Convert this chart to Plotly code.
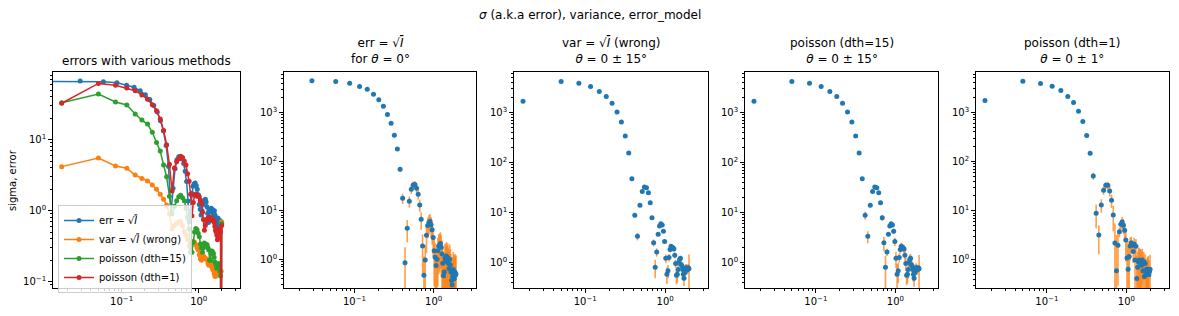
import numpy as np
import plotly.graph_objects as go

# ---------------- data ----------------
# theta = 0 deg cut (panel 2 and blue curve of panel 1)
q_err = [0.0, 0.029, 0.058, 0.087, 0.116, 0.145, 0.174, 0.203, 0.232, 0.261, 0.29,
         0.319, 0.348, 0.377, 0.406, 0.435, 0.464, 0.493, 0.522, 0.551, 0.58, 0.609,
         0.638, 0.667, 0.696, 0.725, 0.754, 0.783, 0.812, 0.841, 0.87, 0.899, 0.928,
         0.957, 0.986, 1.015, 1.044, 1.073, 1.102, 1.131, 1.16, 1.189, 1.218, 1.247,
         1.276, 1.305, 1.334, 1.363, 1.392, 1.421, 1.45, 1.479, 1.508, 1.537, 1.566,
         1.595, 1.624, 1.653, 1.682, 1.711, 1.74, 1.769, 1.798, 1.827, 1.856, 1.885, 1.914]
I_err = [4520, 4500, 4300, 3980, 3400, 2990, 2370, 1840, 1350, 910, 605,
         343, 180, 69, 17.7, 0.85, 4.3, 15.3, 27, 33, 34, 28.5,
         21.3, 12.9, 6.6, 1.87, 0.47, 0.97, 3.1, 4.9, 5.6, 6.0, 5.1,
         4.0, 2.8, 1.5, 1.1, 0.75, 1.0, 1.5, 1.87, 1.96, 2.1, 1.76,
         1.29, 0.83, 0.46, 0.55, 1.06, 0.97, 1.17, 0.9, 1.08, 0.83, 0.65,
         1.0, 0.76, 0.55, 0.37, 0.3, 0.45, 0.62, 0.5, 0.4, 0.55, 0.48, 0.5]
sigma_err = [67.2, 67.1, 65.6, 63.1, 58.3, 54.7, 48.7, 42.9, 36.7, 30.2, 24.6,
             18.5, 13.4, 8.3, 4.2, 0.92, 2.07, 3.91, 5.2, 5.74, 5.83, 5.34,
             4.62, 3.59, 2.57, 1.37, 0.69, 0.98, 1.76, 2.21, 2.37, 2.45, 2.26,
             2.0, 1.67, 1.22, 1.05, 0.87, 1.0, 1.22, 1.37, 1.4, 1.45, 1.33,
             1.14, 0.91, 0.68, 0.74, 1.03, 0.98, 1.08, 0.95, 1.04, 0.91, 0.81,
             1.0, 0.87, 0.74, 0.61, 0.55, 0.67, 0.79, 0.71, 0.63, 0.74, 0.69, 0.71]

# sector-averaged curves (panels 3-5 and orange/green/red curves of panel 1)
q_avg = [0.0167, 0.05, 0.0833, 0.1167, 0.15, 0.1833, 0.2167, 0.25, 0.2833, 0.3167,
         0.35, 0.3833, 0.4167, 0.45, 0.4833, 0.5167, 0.55, 0.5833, 0.6167, 0.65,
         0.6833, 0.7167, 0.75, 0.7833, 0.8167, 0.85, 0.8833, 0.9167, 0.95, 0.9833,
         1.0167, 1.05, 1.0833, 1.1167, 1.15, 1.1833, 1.2167, 1.25, 1.2833, 1.3167,
         1.35, 1.3833, 1.4167, 1.45, 1.4833, 1.5167, 1.55, 1.5833, 1.6167, 1.65,
         1.6833, 1.7167, 1.75, 1.7833, 1.8167, 1.85, 1.8833, 1.9167, 1.95, 1.9833]
I_15 = [1660, 4130, 3830, 3290, 2610, 2080, 1510, 1015, 643, 334,
        153, 47, 8.7, 3.3, 13.8, 26, 32, 31, 24.6, 15.6,
        7.8, 2.46, 0.8, 1.6, 3.65, 5.3, 5.9, 5.6, 4.2, 2.6,
        1.2, 0.58, 0.68, 1.25, 1.8, 2.1, 2.0, 1.95, 1.85, 1.38,
        0.95, 0.55, 0.58, 0.72, 1.0, 1.15, 1.2, 0.9, 0.85, 0.72,
        0.58, 0.48, 0.62, 0.72, 0.78, 0.76, 0.7, 0.75, 0.78, 0.74]
I_1 = [1750, 4270, 3870, 3390, 2790, 2110, 1590, 1050, 655, 340,
       147, 51, 8.9, 3.2, 13.1, 26, 32.9, 32.9, 25.2, 16.3,
       8.2, 2.2, 0.6, 2.0, 3.76, 5.3, 5.9, 5.1, 4.0, 2.55,
       1.1, 0.65, 1.17, 1.92, 2.2, 2.0, 1.48, 2.1, 1.0, 1.9,
       0.42, 0.71, 0.92, 1.0, 0.88, 0.95, 0.78, 1.0, 0.6, 0.92,
       0.46, 0.85, 0.5, 0.65, 0.52, 0.62, 0.65, 0.5, 0.58, 0.65]
sigma_var = [4.17, 5.5, 4.26, 3.95, 3.18, 2.85, 2.62, 2.3, 2.0, 1.7,
             1.45, 1.2, 0.9, 0.55, 0.62, 0.66, 0.7, 0.7, 0.62, 0.5,
             0.45, 0.39, 0.32, 0.3, 0.35, 0.37, 0.36, 0.33, 0.3, 0.28,
             0.24, 0.21, 0.2, 0.22, 0.23, 0.22, 0.21, 0.21, 0.2, 0.18,
             0.17, 0.19, 0.19, 0.17, 0.16, 0.15, 0.146, 0.13, 0.12, 0.118,
             0.13, 0.146, 0.14, 0.15, 0.14, 0.145, 0.13, 0.14, 0.14, 0.7]
sigma_p15 = [33, 44, 34, 30.8, 23, 18.9, 16.6, 12.7, 9.1, 6.9,
             4.4, 3.0, 1.6, 0.9, 1.15, 1.38, 1.57, 1.65, 1.52, 1.38,
             1.08, 0.8, 0.55, 0.26, 0.26, 0.36, 0.5, 0.56, 0.54, 0.48,
             0.43, 0.34, 0.3, 0.26, 0.3, 0.35, 0.34, 0.33, 0.33, 0.3,
             0.28, 0.2, 0.2, 0.25, 0.27, 0.26, 0.25, 0.22, 0.19, 0.18,
             0.17, 0.155, 0.16, 0.17, 0.18, 0.16, 0.14, 0.12, 0.0, 0.66]
sigma_p1 = [32.6, 62, 58.3, 53.5, 49, 42.6, 37, 31, 25.5, 19.5,
            13.5, 8.5, 4.5, 1.9, 4.0, 4.9, 5.4, 5.8, 5.6, 5.0,
            4.4, 3.3, 2.6, 1.7, 0.85, 1.3, 1.65, 1.72, 1.6, 1.62,
            1.57, 1.4, 1.25, 0.95, 0.75, 0.53, 0.62, 0.72, 0.76, 0.78,
            0.8, 0.76, 0.8, 0.78, 0.75, 0.72, 0.74, 0.68, 0.6, 0.53,
            0.5, 0.45, 0.39, 0.42, 0.48, 0.53, 0.55, 0.5, 0.0, 0.62]

# ---------------- text ----------------
SQRT_I = '√<span style="text-decoration:overline"><i>I</i></span>'
LBL_ERR = "err = " + SQRT_I
LBL_VAR = "var = " + SQRT_I + " (wrong)"
LBL_P15 = "poisson (dth=15)"
LBL_P1 = "poisson (dth=1)"
MAIN_TITLE = "<i>σ</i> (a.k.a error), variance, error_model"
PANEL_TITLES = ["errors with various methods",
                "err = " + SQRT_I + "<br>for <i>θ</i> = 0°",
                "var = " + SQRT_I + " (wrong)<br><i>θ</i> = 0 ± 15°",
                "poisson (dth=15)<br><i>θ</i> = 0 ± 15°",
                "poisson (dth=1)<br><i>θ</i> = 0 ± 1°"]
YLABEL = "sigma, error"

# ---------------- style ----------------
C0, C1, C2, C3 = "#1f77b4", "#ff7f0e", "#2ca02c", "#d62728"
EBAR = "rgba(255,127,14,0.75)"
FONT = "DejaVu Sans"
W, H = 1179, 316
X_PX = [(53, 240), (284, 476), (514, 708), (745, 938), (976, 1169)]
Y_TOP, Y_BOT = 72, 288
X_RANGE = [-1.89, 0.535]
Y_RANGES = [[-1.089, 1.953], [-0.587, 3.83], [-0.514, 3.806], [-0.514, 3.806], [-0.57, 3.82]]


def clip_pos(v, floor):
    # emulate matplotlib's log-scale 'clip' of non-positive values
    a = np.asarray(v, dtype=float)
    return np.where(a > 0, a, floor)


fig = go.Figure()

# panel 1: sigma curves
for x, y, c, name in [(q_err, sigma_err, C0, LBL_ERR),
                      (q_avg, sigma_var, C1, LBL_VAR),
                      (q_avg, sigma_p15, C2, LBL_P15),
                      (q_avg, sigma_p1, C3, LBL_P1)]:
    fig.add_trace(go.Scatter(x=clip_pos(x, 1e-4), y=clip_pos(y, 1e-6), mode="lines+markers",
                             name=name, line=dict(color=c, width=1.5),
                             marker=dict(size=5, color=c), xaxis="x", yaxis="y",
                             showlegend=True))

# panels 2-5: intensity with error bars
panels = [(q_err, I_err, sigma_err), (q_avg, I_15, sigma_var),
          (q_avg, I_15, sigma_p15), (q_avg, I_1, sigma_p1)]
for k, (x, y, e) in enumerate(panels, start=2):
    fig.add_trace(go.Scatter(x=clip_pos(x, 1e-4), y=y, mode="markers",
                             marker=dict(size=5, color=C0),
                             error_y=dict(type="data", array=e, visible=True, color=EBAR,
                                          thickness=1.6, width=0),
                             xaxis=f"x{k}", yaxis=f"y{k}", showlegend=False))


def minor_vals(lo, hi):
    return [m * 10.0 ** p for p in range(lo, hi + 1) for m in range(2, 10)]


def sup(e):
    return "10<sup>" + (str(e) if e >= 0 else "−" + str(-e)) + "</sup>"


tickfont = dict(family=FONT, size=10, color="black")
common = dict(type="log", showline=True, linecolor="black", linewidth=0.8, mirror=True,
              showgrid=False, zeroline=False, ticks="outside", ticklen=4, tickwidth=0.8,
              tickcolor="black", tickfont=tickfont, tickmode="array")

yd = [1 - Y_BOT / H, 1 - Y_TOP / H]
for k in range(5):
    sfx = "" if k == 0 else str(k + 1)
    x0, x1 = X_PX[k]
    xa = dict(common, domain=[x0 / W, x1 / W], range=X_RANGE, anchor="y" + sfx,
              tickvals=[0.1, 1], ticktext=[sup(-1), sup(0)],
              minor=dict(tickmode="array", tickvals=minor_vals(-2, 0), ticks="outside",
                         ticklen=2, tickwidth=0.6, tickcolor="black", showgrid=False))
    if k == 0:
        ye = [-1, 0, 1]
        mv = minor_vals(-2, 1)
    else:
        ye = [0, 1, 2, 3]
        mv = minor_vals(-1, 3)
    ya = dict(common, domain=yd, range=Y_RANGES[k], anchor="x" + sfx,
              tickvals=[10.0 ** e for e in ye], ticktext=[sup(e) for e in ye],
              minor=dict(tickmode="array", tickvals=mv, ticks="outside",
                         ticklen=2, tickwidth=0.6, tickcolor="black", showgrid=False))
    fig.layout["xaxis" + sfx] = xa
    fig.layout["yaxis" + sfx] = ya

annotations = [dict(text=MAIN_TITLE, x=0.5, y=1 - 15 / H, xref="paper", yref="paper",
                    showarrow=False, xanchor="center", yanchor="middle",
                    font=dict(family=FONT, size=12, color="black"))]
for k, t in enumerate(PANEL_TITLES):
    x0, x1 = X_PX[k]
    yc = 61 if k == 0 else 51.5
    annotations.append(dict(text=t, x=(x0 + x1) / 2 / W, y=1 - yc / H, xref="paper",
                            yref="paper", showarrow=False, xanchor="center",
                            yanchor="middle", align="center",
                            font=dict(family=FONT, size=12, color="black")))
annotations.append(dict(text=YLABEL, x=12 / W, y=1 - 180 / H, xref="paper", yref="paper",
                        showarrow=False, textangle=-90, xanchor="center", yanchor="middle",
                        font=dict(family=FONT, size=10, color="black")))

fig.update_layout(
    width=W, height=H, margin=dict(l=0, r=0, t=0, b=0),
    paper_bgcolor="white", plot_bgcolor="white",
    font=dict(family=FONT, size=10, color="black"),
    annotations=annotations,
    legend=dict(x=58 / W, y=1 - 205 / H, xanchor="left", yanchor="top",
                bgcolor="rgba(255,255,255,0.8)", bordercolor="#cccccc", borderwidth=1,
                font=dict(family=FONT, size=10, color="black"), itemwidth=30,
                tracegroupgap=0),
)

fig.write_html("out.html")
